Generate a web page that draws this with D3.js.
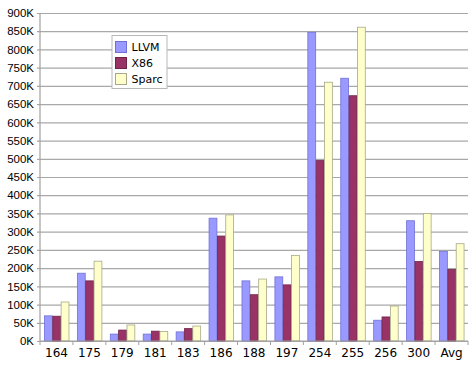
<!DOCTYPE html>
<html>
<head>
<meta charset="utf-8">
<script src="https://cdn.jsdelivr.net/npm/d3@7"></script>
<style>
    body { margin: 0; background: #fff; }
    svg { display: block; font-family: "DejaVu Sans", sans-serif; }
</style>
</head>
<body>
<div id="chart-container"></div>
<script>
// benchmark names along the bottom
const categories = ['164', '175', '179', '181', '183', '186', '188', '197', '254', '255', '256', '300', 'Avg'];
const seriesNames = ['LLVM', 'X86', 'Sparc'];

// values (in K)
const llvm = [69, 186, 19, 19, 25, 337, 165, 176, 847, 721, 57, 330, 246];
const x86 = [68, 165, 30, 27, 34, 288, 127, 154, 495, 673, 66, 218, 196];
const sparc = [107, 219, 44, 26, 41, 346, 170, 235, 710, 861, 96, 350, 267];

const yTicks = d3.range(0, 901, 50);

const colors = ['#9999ff', '#993366', '#ffffcc'];
const strokes = ['#7070d8', '#6e2449', '#a8a888'];

const data = categories.map((c, i) => ({
    name: c,
    values: [llvm[i], x86[i], sparc[i]],
}));

const margin = { top: 13, right: 6, bottom: 28, left: 40 };
const width = 474 - margin.left - margin.right;
const height = 369 - margin.top - margin.bottom;

const svg = d3.select('#chart-container')
    .append('svg')
    .attr('width', 474)
    .attr('height', 369)
    .append('g')
    .attr('transform', `translate(${margin.left},${margin.top})`);

const x = d3.scaleBand().domain(categories).range([0, width]).paddingInner(0.24).paddingOuter(0.12);
const xs = d3.scaleBand().domain(d3.range(3)).range([0, x.bandwidth()]);
const y = d3.scaleLinear().domain([0, 900]).range([height, 0]);

// gridlines + left ticks
const yAxis = svg.append('g')
    .call(d3.axisLeft(y).tickValues(yTicks).tickSize(-width - 3).tickFormat((d) => d + 'K'));
yAxis.select('.domain').remove();
yAxis.selectAll('.tick line')
    .attr('x1', -3)
    .attr('x2', width)
    .attr('stroke', '#a8a8a8')
    .attr('stroke-width', 1.2);
yAxis.selectAll('.tick text')
    .attr('x', -6)
    .attr('font-size', 11.5)
    .attr('fill', '#000');

// bars
const groups = svg.selectAll('.grp')
    .data(data)
    .enter()
    .append('g')
    .attr('transform', (d) => `translate(${x(d.name)},0)`);

groups.selectAll('rect')
    .data((d) => d.values)
    .enter()
    .append('rect')
    .attr('x', (_, i) => xs(i) + 0.5)
    .attr('y', (v) => y(v))
    .attr('width', xs.bandwidth() - 0.5)
    .attr('height', (v) => height - y(v))
    .attr('fill', (_, i) => colors[i])
    .attr('stroke', (_, i) => strokes[i])
    .attr('stroke-width', 0.8);

// left axis line
svg.append('line')
    .attr('x1', 0).attr('x2', 0)
    .attr('y1', 0).attr('y2', height)
    .attr('stroke', '#a0a0a0')
    .attr('stroke-width', 1.2);

// bottom axis
const xAxis = svg.append('g').attr('transform', `translate(0,${height})`);
xAxis.append('line')
    .attr('x1', 0).attr('x2', width)
    .attr('stroke', '#a0a0a0')
    .attr('stroke-width', 1.2);
xAxis.selectAll('.sep')
    .data(d3.range(categories.length + 1))
    .enter()
    .append('line')
    .attr('x1', (i) => i * width / categories.length)
    .attr('x2', (i) => i * width / categories.length)
    .attr('y1', 0).attr('y2', 4)
    .attr('stroke', '#a0a0a0');
xAxis.selectAll('.lbl')
    .data(categories)
    .enter()
    .append('text')
    .attr('x', (d) => x(d) + x.bandwidth() / 2)
    .attr('y', 16)
    .attr('text-anchor', 'middle')
    .attr('font-size', 12)
    .text((d) => d);

// legend
const legend = svg.append('g').attr('transform', `translate(${112 - margin.left},${35.5 - margin.top})`);
legend.append('rect')
    .attr('width', 55).attr('height', 53)
    .attr('fill', '#fff')
    .attr('stroke', '#b8b8b8');
seriesNames.forEach((name, i) => {
    const row = legend.append('g').attr('transform', `translate(3.5,${6 + i * 16})`);
    row.append('rect')
        .attr('width', 11).attr('height', 11)
        .attr('fill', colors[i])
        .attr('stroke', strokes[i]);
    row.append('text')
        .attr('x', 16).attr('y', 9.8)
        .attr('font-size', 11)
        .text(name);
});
</script>
</body>
</html>
